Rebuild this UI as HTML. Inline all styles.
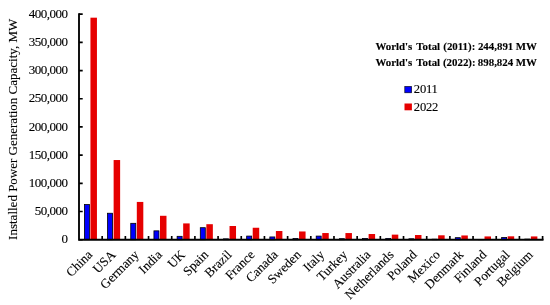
<!DOCTYPE html><html><head><meta charset="utf-8"><title>chart</title><style>html,body{margin:0;padding:0;background:#fff}svg{display:block}text{font-family:"Liberation Serif","Times New Roman",serif;fill:#000;stroke:#000;stroke-width:0.12px}</style></head><body>
<svg width="550" height="305" viewBox="0 0 550 305">
<rect width="550" height="305" fill="#fff"/>
<rect x="84.40" y="204.54" width="5.0" height="35.16" fill="#0000ff" stroke="#000" stroke-width="0.8"/>
<rect x="90.45" y="17.68" width="6.5" height="222.02" fill="#e60000"/>
<rect x="107.58" y="213.25" width="5.0" height="26.45" fill="#0000ff" stroke="#000" stroke-width="0.8"/>
<rect x="113.63" y="160.04" width="6.5" height="79.66" fill="#e60000"/>
<rect x="130.76" y="223.32" width="5.0" height="16.38" fill="#0000ff" stroke="#000" stroke-width="0.8"/>
<rect x="136.81" y="201.93" width="6.5" height="37.77" fill="#e60000"/>
<rect x="153.94" y="230.85" width="5.0" height="8.85" fill="#0000ff" stroke="#000" stroke-width="0.8"/>
<rect x="159.99" y="215.79" width="6.5" height="23.91" fill="#e60000"/>
<rect x="177.12" y="236.32" width="5.0" height="3.38" fill="#0000ff" stroke="#000" stroke-width="0.8"/>
<rect x="183.17" y="223.41" width="6.5" height="16.29" fill="#e60000"/>
<rect x="200.30" y="227.69" width="5.0" height="12.01" fill="#0000ff" stroke="#000" stroke-width="0.8"/>
<rect x="206.35" y="224.20" width="6.5" height="15.50" fill="#e60000"/>
<rect x="223.48" y="238.85" width="5.0" height="0.85" fill="#0000ff" stroke="#000" stroke-width="0.8"/>
<rect x="229.53" y="226.00" width="6.5" height="13.70" fill="#e60000"/>
<rect x="246.66" y="236.09" width="5.0" height="3.61" fill="#0000ff" stroke="#000" stroke-width="0.8"/>
<rect x="252.71" y="227.75" width="6.5" height="11.95" fill="#e60000"/>
<rect x="269.84" y="236.94" width="5.0" height="2.76" fill="#0000ff" stroke="#000" stroke-width="0.8"/>
<rect x="275.89" y="231.02" width="6.5" height="8.68" fill="#e60000"/>
<rect x="293.02" y="238.40" width="5.0" height="1.30" fill="#0000ff" stroke="#000" stroke-width="0.8"/>
<rect x="299.07" y="231.47" width="6.5" height="8.23" fill="#e60000"/>
<rect x="316.20" y="236.09" width="5.0" height="3.61" fill="#0000ff" stroke="#000" stroke-width="0.8"/>
<rect x="322.25" y="233.05" width="6.5" height="6.65" fill="#e60000"/>
<rect x="339.38" y="238.69" width="5.0" height="1.01" fill="#0000ff" stroke="#000" stroke-width="0.8"/>
<rect x="345.43" y="233.05" width="6.5" height="6.65" fill="#e60000"/>
<rect x="362.56" y="238.45" width="5.0" height="1.25" fill="#0000ff" stroke="#000" stroke-width="0.8"/>
<rect x="368.61" y="234.01" width="6.5" height="5.69" fill="#e60000"/>
<rect x="385.74" y="238.39" width="5.0" height="1.31" fill="#0000ff" stroke="#000" stroke-width="0.8"/>
<rect x="391.79" y="234.63" width="6.5" height="5.07" fill="#e60000"/>
<rect x="408.92" y="238.79" width="5.0" height="0.91" fill="#0000ff" stroke="#000" stroke-width="0.8"/>
<rect x="414.97" y="235.02" width="6.5" height="4.68" fill="#e60000"/>
<rect x="432.10" y="239.18" width="5.0" height="0.52" fill="#0000ff" stroke="#000" stroke-width="0.8"/>
<rect x="438.15" y="235.30" width="6.5" height="4.40" fill="#e60000"/>
<rect x="455.28" y="237.67" width="5.0" height="2.03" fill="#0000ff" stroke="#000" stroke-width="0.8"/>
<rect x="461.33" y="235.47" width="6.5" height="4.23" fill="#e60000"/>
<rect x="478.46" y="239.59" width="5.0" height="0.11" fill="#0000ff" stroke="#000" stroke-width="0.8"/>
<rect x="484.51" y="236.43" width="6.5" height="3.27" fill="#e60000"/>
<rect x="501.64" y="237.50" width="5.0" height="2.20" fill="#0000ff" stroke="#000" stroke-width="0.8"/>
<rect x="507.69" y="236.32" width="6.5" height="3.38" fill="#e60000"/>
<rect x="524.82" y="239.09" width="5.0" height="0.61" fill="#0000ff" stroke="#000" stroke-width="0.8"/>
<rect x="530.87" y="236.43" width="6.5" height="3.27" fill="#e60000"/>
<path d="M79.0 14.18V239.7H542.6" fill="none" stroke="#000" stroke-width="1.85" stroke-linecap="square"/>
<path d="M79.0 239.70h3.7M79.0 211.51h3.7M79.0 183.32h3.7M79.0 155.13h3.7M79.0 126.94h3.7M79.0 98.75h3.7M79.0 70.56h3.7M79.0 42.37h3.7M79.0 14.18h3.7M102.18 239.7v-3.8M125.36 239.7v-3.8M148.54 239.7v-3.8M171.72 239.7v-3.8M194.90 239.7v-3.8M218.08 239.7v-3.8M241.26 239.7v-3.8M264.44 239.7v-3.8M287.62 239.7v-3.8M310.80 239.7v-3.8M333.98 239.7v-3.8M357.16 239.7v-3.8M380.34 239.7v-3.8M403.52 239.7v-3.8M426.70 239.7v-3.8M449.88 239.7v-3.8M473.06 239.7v-3.8M496.24 239.7v-3.8M519.42 239.7v-3.8M542.60 239.7v-3.8" fill="none" stroke="#000" stroke-width="1.65"/>
<text x="67.6" y="243.35" font-size="13" letter-spacing="-0.47" text-anchor="end">0</text>
<text x="67.6" y="215.16" font-size="13" letter-spacing="-0.47" text-anchor="end">50,000</text>
<text x="67.6" y="186.97" font-size="13" letter-spacing="-0.47" text-anchor="end">100,000</text>
<text x="67.6" y="158.78" font-size="13" letter-spacing="-0.47" text-anchor="end">150,000</text>
<text x="67.6" y="130.59" font-size="13" letter-spacing="-0.47" text-anchor="end">200,000</text>
<text x="67.6" y="102.40" font-size="13" letter-spacing="-0.47" text-anchor="end">250,000</text>
<text x="67.6" y="74.21" font-size="13" letter-spacing="-0.47" text-anchor="end">300,000</text>
<text x="67.6" y="46.02" font-size="13" letter-spacing="-0.47" text-anchor="end">350,000</text>
<text x="67.6" y="17.83" font-size="13" letter-spacing="-0.47" text-anchor="end">400,000</text>
<text transform="translate(17.0,129.3) rotate(-90)" font-size="13" text-anchor="middle">Installed Power Generation Capacity, MW</text>
<text transform="translate(93.19,255.50) rotate(-45)" font-size="13" stroke-width="0.3" text-anchor="end">China</text>
<text transform="translate(116.37,255.50) rotate(-45)" font-size="13" stroke-width="0.3" text-anchor="end">USA</text>
<text transform="translate(139.55,255.50) rotate(-45)" font-size="13" stroke-width="0.3" text-anchor="end">Germany</text>
<text transform="translate(162.73,255.50) rotate(-45)" font-size="13" stroke-width="0.3" text-anchor="end">India</text>
<text transform="translate(185.91,255.50) rotate(-45)" font-size="13" stroke-width="0.3" text-anchor="end">UK</text>
<text transform="translate(209.09,255.50) rotate(-45)" font-size="13" stroke-width="0.3" text-anchor="end">Spain</text>
<text transform="translate(232.27,255.50) rotate(-45)" font-size="13" stroke-width="0.3" text-anchor="end">Brazil</text>
<text transform="translate(255.45,255.50) rotate(-45)" font-size="13" stroke-width="0.3" text-anchor="end">France</text>
<text transform="translate(278.63,255.50) rotate(-45)" font-size="13" stroke-width="0.3" text-anchor="end">Canada</text>
<text transform="translate(301.81,255.50) rotate(-45)" font-size="13" stroke-width="0.3" text-anchor="end">Sweden</text>
<text transform="translate(324.99,255.50) rotate(-45)" font-size="13" stroke-width="0.3" text-anchor="end">Italy</text>
<text transform="translate(348.17,255.50) rotate(-45)" font-size="13" stroke-width="0.3" text-anchor="end">Turkey</text>
<text transform="translate(371.35,255.50) rotate(-45)" font-size="13" stroke-width="0.3" text-anchor="end">Australia</text>
<text transform="translate(394.53,255.50) rotate(-45)" font-size="13" stroke-width="0.3" text-anchor="end">Netherlands</text>
<text transform="translate(417.71,255.50) rotate(-45)" font-size="13" stroke-width="0.3" text-anchor="end">Poland</text>
<text transform="translate(440.89,255.50) rotate(-45)" font-size="13" stroke-width="0.3" text-anchor="end">Mexico</text>
<text transform="translate(464.07,255.50) rotate(-45)" font-size="13" stroke-width="0.3" text-anchor="end">Denmark</text>
<text transform="translate(487.25,255.50) rotate(-45)" font-size="13" stroke-width="0.3" text-anchor="end">Finland</text>
<text transform="translate(510.43,255.50) rotate(-45)" font-size="13" stroke-width="0.3" text-anchor="end">Portugal</text>
<text transform="translate(533.61,255.50) rotate(-45)" font-size="13" stroke-width="0.3" text-anchor="end">Belgium</text>
<text y="49.8" font-size="10.9" font-weight="bold" stroke="none"><tspan x="375.4">World's</tspan> <tspan x="416.3">Total</tspan> <tspan x="443.25">(2011):</tspan> <tspan x="477.9">244,891</tspan> <tspan x="515.7">MW</tspan></text>
<text y="66.1" font-size="10.9" font-weight="bold" stroke="none"><tspan x="375.4">World's</tspan> <tspan x="416.3">Total</tspan> <tspan x="442.95">(2022):</tspan> <tspan x="477.8">898,824</tspan> <tspan x="515.7">MW</tspan></text>
<rect x="404.8" y="86.4" width="6.8" height="6.4" fill="#0000ff" stroke="#000" stroke-width="0.6"/>
<text x="413.8" y="93.3" font-size="12.6" letter-spacing="-0.2">2011</text>
<rect x="404.5" y="103.5" width="7.4" height="6.8" fill="#e60000"/>
<text x="413.8" y="110.8" font-size="12.6" letter-spacing="-0.2">2022</text>
</svg></body></html>
